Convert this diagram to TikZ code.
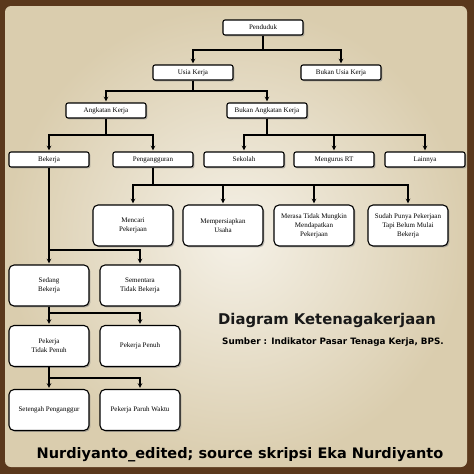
\documentclass[tikz,border=0pt]{standalone}
\usepackage{fontspec}
\setmainfont{Liberation Serif}
\newfontfamily\headfont{DejaVu Sans}
\usetikzlibrary{arrows,shadows,positioning,calc}

\definecolor{rim}{HTML}{5A381C}
\definecolor{rimlight}{HTML}{B8884E}
\definecolor{paper}{HTML}{F5F1E7}
\definecolor{paperedge}{HTML}{DACDAE}

\tikzset{
  box/.style={draw=black,line width=1.1pt,fill=white,rounded corners=2pt,
    minimum width=80pt,minimum height=15pt,inner sep=1pt,align=center,
    font=\fontsize{7}{9}\selectfont,
    drop shadow={shadow xshift=1.4pt,shadow yshift=-1.4pt,opacity=0.55}},
  bigbox/.style={box,rounded corners=5pt,minimum height=41pt},
  link/.style={line width=1.1pt,->,>=stealth,shorten >=1pt},
}

\begin{document}
\begin{tikzpicture}[x=1pt,y=-1pt]

\useasboundingbox (0,0) rectangle (474,474);

% paper background
\shade[inner color=rimlight,outer color=rim] (0,0) rectangle (474,474);
\shade[rounded corners=6pt,inner color=paper,outer color=paperedge] (5,6) rectangle (467,467);

% boxes
\node[box] (pend)      at (263,27.5) {Penduduk};
\node[box] (usia)      at (193,72.5) {Usia Kerja};
\node[box] (bukanusia) at (341,72.5) {Bukan Usia Kerja};
\node[box] (angk)      at (106,110.5) {Angkatan Kerja};
\node[box] (bukanangk) at (267,110.5) {Bukan Angkatan Kerja};
\node[box] (bekerja)   at (49,159.5) {Bekerja};
\node[box] (pengang)   at (153,159.5) {Pengangguran};
\node[box] (sekolah)   at (244,159.5) {Sekolah};
\node[box] (urusrt)    at (334,159.5) {Mengurus RT};
\node[box] (lainnya)   at (425,159.5) {Lainnya};

\node[bigbox] (mencari)    at (133,225.5) {Mencari\\Pekerjaan};
\node[bigbox] (persiapan)  at (223,225.5) {Mempersiapkan\\Usaha};
\node[bigbox] (merasa)     at (314,225.5) {Merasa Tidak Mungkin\\Mendapatkan\\Pekerjaan};
\node[bigbox] (sudah)      at (408,225.5) {Sudah Punya Pekerjaan\\Tapi Belum Mulai\\Bekerja};
\node[bigbox] (sedang)     at (49,285.5) {Sedang\\Bekerja};
\node[bigbox] (sementara)  at (140,285.5) {Sementara\\Tidak Bekerja};
\node[bigbox] (tidakpenuh) at (49,346) {Pekerja\\Tidak Penuh};
\node[bigbox] (penuh)      at (140,346) {Pekerja Penuh};
\node[bigbox] (setengah)   at (49,410) {Setengah Penganggur};
\node[bigbox] (paruh)      at (140,410) {Pekerja Paruh Waktu};

% bus points
\coordinate (b1) at (263,50);
\coordinate (b2) at (193,91);
\coordinate (b3) at (106,135);
\coordinate (b4) at (267,135);
\coordinate (b5) at (153,185);
\coordinate (b6) at (49,250);
\coordinate (b7) at (49,313);
\coordinate (b8) at (49,378);

\foreach \c in {usia,bukanusia}{\draw[link] (pend.south) -- (b1) -| (\c.north);}
\foreach \c in {angk,bukanangk}{\draw[link] (usia.south) -- (b2) -| (\c.north);}
\foreach \c in {bekerja,pengang}{\draw[link] (angk.south) -- (b3) -| (\c.north);}
\foreach \c in {sekolah,urusrt,lainnya}{\draw[link] (bukanangk.south) -- (b4) -| (\c.north);}
\foreach \c in {mencari,persiapan,merasa,sudah}{\draw[link] (pengang.south) -- (b5) -| (\c.north);}
\foreach \c in {sedang,sementara}{\draw[link] (bekerja.south) -- (b6) -| (\c.north);}
\foreach \c in {tidakpenuh,penuh}{\draw[link] (sedang.south) -- (b7) -| (\c.north);}
\foreach \c in {setengah,paruh}{\draw[link] (tidakpenuh.south) -- (b8) -| (\c.north);}

% titles
\node[text=black!90,font=\headfont\bfseries\fontsize{14.8}{16}\selectfont] (title) at (327,320) {Diagram Ketenagakerjaan};
\node[font=\headfont\bfseries\fontsize{8.8}{10}\selectfont] (sumber) at (333,342) {Sumber : Indikator Pasar Tenaga Kerja, BPS.};
\node[font=\headfont\bfseries\fontsize{14.5}{16}\selectfont] (credit) at (240,455) {Nurdiyanto\_edited; source skripsi Eka Nurdiyanto};

\end{tikzpicture}
\end{document}
